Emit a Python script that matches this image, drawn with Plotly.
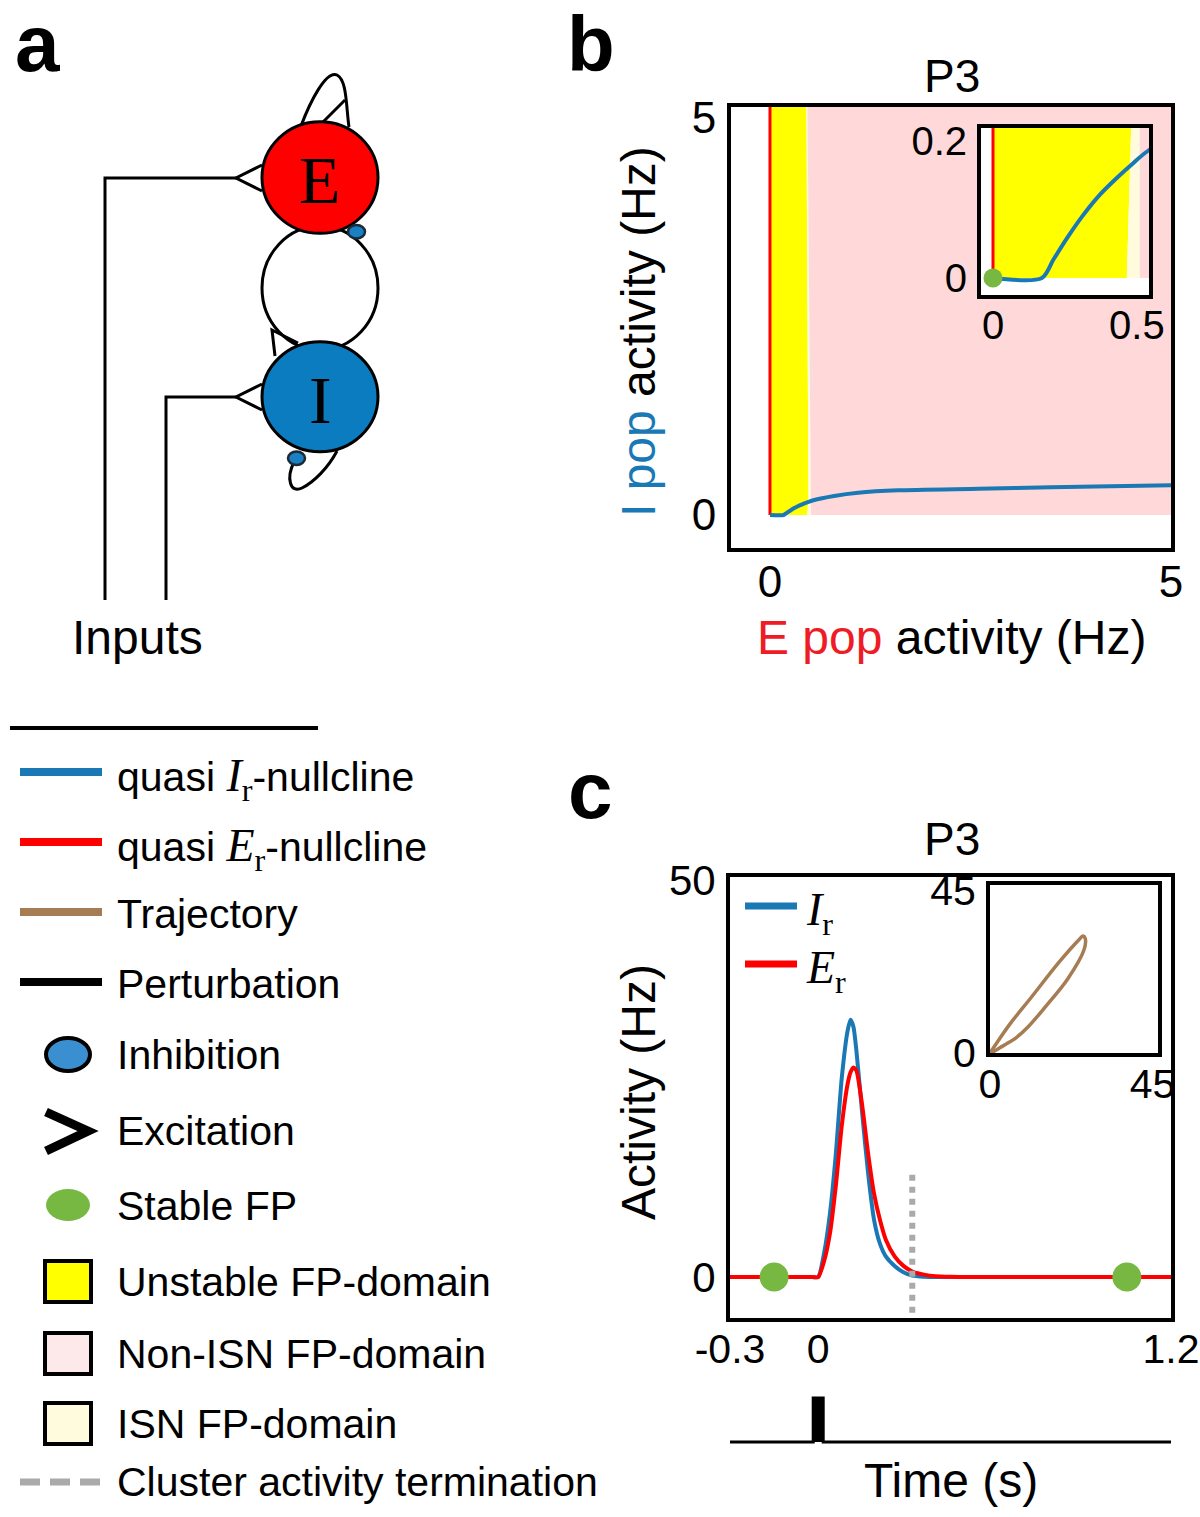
import plotly.graph_objects as go

W, H = 1200, 1517

# ---------------- data: panel b (phase plane, Hz) ----------------
e_null_x = [0, 0]
e_null_y = [0, 6]
i_null_x = [0, 0.17, 0.21, 0.26, 0.31, 0.37, 0.43, 0.48, 0.54, 0.8, 1.1, 1.6, 2.6, 3.5, 5.0]
i_null_y = [0, 0, 0.027, 0.06, 0.09, 0.121, 0.146, 0.165, 0.186, 0.24, 0.28, 0.31, 0.33, 0.35, 0.375]
dom_bound_y = [0, 0.22, 6]
unstable_left_x = [0, 0, 0]
unstable_right_x = [0.465, 0.48, 0.45]
isn_right_x = [0.51, 0.51, 0.46]
nonisn_right_x = [6, 6, 6]
fp_b_x = [0]
fp_b_y = [0]

# ---------------- data: panel c (time course) ----------------
t = [-0.3, -0.02, 0, 0.02, 0.04, 0.06, 0.08, 0.1, 0.11, 0.12, 0.13, 0.15, 0.17, 0.19,
     0.21, 0.23, 0.26, 0.29, 0.32, 0.36, 0.4, 0.45, 0.5, 1.2]
I_r = [0, 0, 0, 3, 8, 15.5, 25, 31, 32.4, 31.5, 28.5, 20.5, 13, 7.2,
       4.2, 2.6, 1.4, 0.6, 0.2, 0.05, 0, 0, 0, 0]
E_r = [0, 0, 0, 2, 5.5, 11.5, 19, 24.3, 25.8, 26.4, 26, 21.5, 15.5, 10.5,
       7.2, 4.7, 2.6, 1.4, 0.7, 0.3, 0.1, 0.03, 0, 0]
fp_t = [-0.15, 1.05]
fp_v = [0, 0]
term_x = [0.32, 0.32]
term_y = [-6, 13.5]
pert_t = [-0.3, -0.017, -0.017, 0.017, 0.017, 1.2]
pert_v = [0, 0, 1, 1, 0, 0]

# ---------------- style ----------------
SANS = "Liberation Sans, Arial, sans-serif"
NARROW = "Liberation Sans Narrow, Arial Narrow, Liberation Sans, Arial, sans-serif"
SERIF = "Liberation Serif, Times New Roman, serif"
YELLOW = "#ffff00"
PINK = "#ffd9d9"
PINK_LEG = "#fde9e9"
ISN = "#fffbdc"
BLUE = "#1a78b5"
BLUE_DOT = "#3a8fd0"
RED = "#ff0000"
GREEN = "#77b843"
BROWN = "#a67c52"
GRAY = "#aaaaaa"


def dx(p0, p1):
    return [p0 / W, p1 / W]


def dy(p0, p1):
    return [1 - p1 / H, 1 - p0 / H]


def poly(left, right, ys):
    return list(left) + list(right)[::-1], list(ys) + list(ys)[::-1]


fig = go.Figure()

# ---- panel b main (x, y) ----
for left, right, col in [(unstable_left_x, unstable_right_x, YELLOW),
                         (unstable_right_x, isn_right_x, ISN),
                         (isn_right_x, nonisn_right_x, PINK)]:
    px_, py_ = poly(left, right, dom_bound_y)
    fig.add_trace(go.Scatter(x=px_, y=py_, fill="toself", fillcolor=col, mode="none",
                             xaxis="x", yaxis="y", hoverinfo="skip"))
fig.add_trace(go.Scatter(x=e_null_x, y=e_null_y, mode="lines", line=dict(color=RED, width=3),
                         xaxis="x", yaxis="y"))
fig.add_trace(go.Scatter(x=i_null_x, y=i_null_y, mode="lines",
                         line=dict(color=BLUE, width=4, shape="spline", smoothing=0.6),
                         xaxis="x", yaxis="y"))

# ---- panel b inset (x2, y2) ----
fig.add_trace(go.Scatter(x=[-1, 1, 1, -1], y=[-1, -1, 1, 1], fill="toself", fillcolor="white", mode="none",
                         xaxis="x2", yaxis="y2", hoverinfo="skip"))
for left, right, col in [(unstable_left_x, unstable_right_x, YELLOW),
                         (unstable_right_x, isn_right_x, ISN),
                         (isn_right_x, nonisn_right_x, PINK)]:
    px_, py_ = poly(left, right, dom_bound_y)
    fig.add_trace(go.Scatter(x=px_, y=py_, fill="toself", fillcolor=col, mode="none",
                             xaxis="x2", yaxis="y2", hoverinfo="skip"))
fig.add_trace(go.Scatter(x=e_null_x, y=e_null_y, mode="lines", line=dict(color=RED, width=3),
                         xaxis="x2", yaxis="y2"))
fig.add_trace(go.Scatter(x=i_null_x, y=i_null_y, mode="lines",
                         line=dict(color=BLUE, width=4, shape="spline", smoothing=0.8),
                         xaxis="x2", yaxis="y2"))
fig.add_trace(go.Scatter(x=fp_b_x, y=fp_b_y, mode="markers", marker=dict(color=GREEN, size=19),
                         xaxis="x2", yaxis="y2", cliponaxis=False))

# ---- panel c main (x3, y3) ----
fig.add_trace(go.Scatter(x=t, y=I_r, mode="lines",
                         line=dict(color=BLUE, width=4, shape="spline", smoothing=0.6),
                         xaxis="x3", yaxis="y3"))
fig.add_trace(go.Scatter(x=t, y=E_r, mode="lines",
                         line=dict(color=RED, width=4, shape="spline", smoothing=0.6),
                         xaxis="x3", yaxis="y3"))
fig.add_trace(go.Scatter(x=term_x, y=term_y, mode="lines", line=dict(color=GRAY, width=6, dash="dot"),
                         xaxis="x3", yaxis="y3"))
fig.add_trace(go.Scatter(x=fp_t, y=fp_v, mode="markers", marker=dict(color=GREEN, size=29),
                         xaxis="x3", yaxis="y3"))

# ---- panel c inset (x4, y4): trajectory ----
fig.add_trace(go.Scatter(x=E_r, y=I_r, mode="lines",
                         line=dict(color=BROWN, width=3.5, shape="spline", smoothing=1.0),
                         xaxis="x4", yaxis="y4"))

# ---- perturbation (x5, y5) ----
fig.add_trace(go.Scatter(x=pert_t, y=pert_v, mode="lines", line=dict(color="black", width=3),
                         fill="tozeroy", fillcolor="black", xaxis="x5", yaxis="y5"))

# ---- canvas (x6, y6) ----
fig.add_trace(go.Scatter(x=[0], y=[0], mode="markers", marker=dict(size=1, opacity=0),
                         xaxis="x6", yaxis="y6", hoverinfo="skip"))


def axis(domain, rng, tickvals, ticktext, size, anchor, standoff, lw=4, font=NARROW):
    return dict(domain=domain, range=rng, tickvals=tickvals, ticktext=ticktext,
                tickfont=dict(family=font, size=size, color="black"),
                showline=True, linecolor="black", linewidth=lw, mirror=True,
                ticks="", showgrid=False, zeroline=False, anchor=anchor,
                ticklabelstandoff=standoff, ticklabeloverflow="allow",
                fixedrange=True, automargin=False)


def hidden(domain, rng, anchor):
    return dict(domain=domain, range=rng, visible=False, anchor=anchor, fixedrange=True,
                automargin=False, showgrid=False, zeroline=False)


XS = -8   # x tick-label standoff
YS = 2    # y tick-label standoff
layout = dict(
    template="none",
    width=W, height=H, autosize=False,
    margin=dict(l=0, r=0, t=0, b=0, pad=0, autoexpand=False),
    paper_bgcolor="white", plot_bgcolor="rgba(0,0,0,0)",
    showlegend=False,
    font=dict(family=SANS, color="black"),
    xaxis=axis(dx(731, 1171), [-0.486, 5.0001], [0, 5], ["0", "5"], 44, "y", XS),
    yaxis=axis(dy(107, 548), [-0.416, 5.139], [0, 5], ["0", "5"], 44, "x", YS),
    xaxis2=axis(dx(981, 1149), [-0.0417, 0.542], [0, 0.5], ["0", "0.5"], 40, "y2", XS),
    yaxis2=axis(dy(128, 295), [-0.0248, 0.219], [0, 0.2], ["0", "0.2"], 40, "x2", YS),
    xaxis3=axis(dx(730, 1171), [-0.3, 1.2001], [-0.3, 0, 1.2], ["-0.3", "0", "1.2"], 41, "y3", XS),
    yaxis3=axis(dy(877, 1318), [-5.16, 50.38], [0, 50], ["0", "50"], 42, "x3", YS),
    xaxis4=axis(dx(990, 1158), [0, 46.5], [0, 45], ["0", "45"], 41, "y4", XS),
    yaxis4=axis(dy(885, 1053), [0, 46.5], [0, 45], ["0", "45"], 41, "x4", YS),
    xaxis5=hidden(dx(730, 1171), [-0.3, 1.2], "y5"),
    yaxis5=hidden(dy(1390, 1450), [-0.18, 1.18], "x5"),
    xaxis6=hidden([0, 1], [0, W], "y6"),
    yaxis6=hidden([0, 1], [H, 0], "x6"),
)
fig.update_layout(**layout)

shapes = []
annos = []


def S(**kw):
    d = dict(xref="x6", yref="y6", layer="above")
    d.update(kw)
    shapes.append(d)


def A(x, y, text, size, family=SANS, xanchor="center", yanchor="middle", color="black", angle=0, bold=False):
    if bold:
        text = "<b>" + text + "</b>"
    annos.append(dict(x=x, y=y, xref="x6", yref="y6", text=text, showarrow=False,
                      xanchor=xanchor, yanchor=yanchor, textangle=angle,
                      font=dict(family=family, size=size, color=color)))


BLK = dict(color="black", width=3)
# ---- panel a diagram ----
S(type="circle", x0=262, x1=378, y0=226, y1=350, line=BLK)
S(type="path", path="M 105 600 L 105 178 L 236 178", line=BLK)
S(type="path", path="M 166 600 L 166 397 L 236 397", line=BLK)
S(type="path", path="M 262 165 L 236 178 L 262 191", line=BLK)
S(type="path", path="M 262 384 L 236 397 L 262 410", line=BLK)
S(type="path", path="M 301 126 C 310 102 326 70 337 75 C 347 80 346 106 349 127", line=BLK)
S(type="path", path="M 323 122 L 345 100", line=BLK)
S(type="path", path="M 275 356 L 272 330 L 298 343", line=BLK)
S(type="path", path="M 294 462 C 286 478 290 494 302 488 C 314 482 328 468 337 451", line=BLK)
S(type="circle", x0=262, x1=378, y0=121.7, y1=233.3, fillcolor="#ff0000", line=BLK)
S(type="circle", x0=262, x1=378, y0=341.7, y1=451.7, fillcolor="#0b7cc0", line=BLK)
S(type="circle", x0=348, x1=365, y0=225, y1=238.5, fillcolor="#1a80c4", line=dict(color="#1c2a38", width=2.5))
S(type="circle", x0=288, x1=305, y0=451.5, y1=465, fillcolor="#1a80c4", line=dict(color="#1c2a38", width=2.5))
A(320, 180, "E", 68, family=SERIF)
A(320, 400, "I", 68, family=SERIF)
A(137, 637, "Inputs", 48)

# panel letters and titles
A(37, 43, "a", 80, bold=True)
A(591, 44, "b", 78, bold=True)
A(590, 790, "c", 80, bold=True)
A(952, 76, "P3", 46)
A(952, 839, "P3", 46)

# axis titles
A(951, 637, '<span style="color:#ee1c24">E pop</span> activity (Hz)', 48)
A(638, 332, '<span style="color:%s">I pop</span> activity (Hz)' % BLUE, 48, angle=-90)
A(638, 1092, "Activity (Hz)", 48, angle=-90)
A(951, 1480, "Time (s)", 48)

# panel c legend
S(type="line", x0=745, x1=797, y0=906, y1=906, line=dict(color=BLUE, width=7))
S(type="line", x0=745, x1=797, y0=964, y1=964, line=dict(color=RED, width=7))
A(804, 913, "<i>I</i><sub>r</sub>", 46, family=SERIF, xanchor="left")
A(804, 971, "<i>E</i><sub>r</sub>", 46, family=SERIF, xanchor="left")

# ---- left legend ----
S(type="line", x0=10, x1=318, y0=728, y1=728, line=dict(color="black", width=4))
S(type="line", x0=20, x1=102, y0=772, y1=772, line=dict(color=BLUE, width=8))
S(type="line", x0=20, x1=102, y0=842, y1=842, line=dict(color=RED, width=8))
S(type="line", x0=20, x1=102, y0=912, y1=912, line=dict(color=BROWN, width=8))
S(type="line", x0=20, x1=102, y0=982, y1=982, line=dict(color="black", width=8))
S(type="circle", x0=46, x1=90, y0=1038, y1=1071, fillcolor=BLUE_DOT, line=dict(color="black", width=4))
S(type="path", path="M 46 1112 L 88 1131 L 46 1151", line=dict(color="black", width=9))
S(type="circle", x0=46, x1=90, y0=1189, y1=1221, fillcolor=GREEN, line=dict(width=0))
S(type="rect", x0=45, x1=91, y0=1261, y1=1302, fillcolor=YELLOW, line=dict(color="black", width=4))
S(type="rect", x0=45, x1=91, y0=1333, y1=1374, fillcolor=PINK_LEG, line=dict(color="black", width=4))
S(type="rect", x0=45, x1=91, y0=1403, y1=1444, fillcolor=ISN, line=dict(color="black", width=4))
S(type="line", x0=20, x1=102, y0=1482, y1=1482, line=dict(color=GRAY, width=7, dash="20px,10px"))

LX = 115
LS = 41
math_I = '<span style="font-family:Liberation Serif, serif;font-size:46px"><i>I</i><sub>r</sub></span>'
math_E = '<span style="font-family:Liberation Serif, serif;font-size:46px"><i>E</i><sub>r</sub></span>'
A(LX, 779, "quasi " + math_I + "-nullcline", LS, xanchor="left")
A(LX, 849, "quasi " + math_E + "-nullcline", LS, xanchor="left")
A(LX, 914, "Trajectory", LS, xanchor="left")
A(LX, 984, "Perturbation", LS, xanchor="left")
A(LX, 1055, "Inhibition", LS, xanchor="left")
A(LX, 1131, "Excitation", LS, xanchor="left")
A(LX, 1206, "Stable FP", LS, xanchor="left")
A(LX, 1282, "Unstable FP-domain", LS, xanchor="left")
A(LX, 1354, "Non-ISN FP-domain", LS, xanchor="left")
A(LX, 1424, "ISN FP-domain", LS, xanchor="left")
A(LX, 1482, "Cluster activity termination", LS, xanchor="left")

fig.update_layout(shapes=shapes, annotations=annos)
fig.write_html("out.html", post_script="document.body.style.margin='0';",
               config={"displayModeBar": False})
